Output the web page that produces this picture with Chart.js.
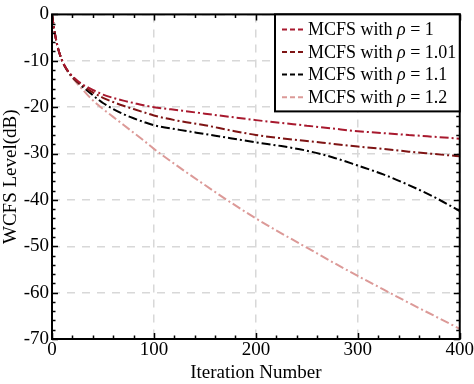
<!DOCTYPE html>
<html>
<head>
<meta charset="utf-8">
<script src="https://cdn.jsdelivr.net/npm/chart.js@4.4.0/dist/chart.umd.min.js"></script>
<style>
    html, body { margin: 0; padding: 0; background: #fff; }
    #wrap { width: 474px; height: 384px; position: relative; }
</style>
</head>
<body>
<div id="wrap"><canvas id="wcfsChart"></canvas></div>
<script>
// Iteration numbers sampled from the figure
const iterations = [0, 2, 5, 10, 15, 20, 25, 30, 35, 40, 45, 50, 60, 70, 80, 90, 100, 125, 150, 175, 200, 225, 250, 275, 300, 325, 350, 375, 400];

// WCFS level (dB) for each rho
const rho1   = [0, -3, -6.5, -10, -12, -13.3, -14.3, -15.1, -15.7, -16.3, -16.8, -17.3, -18.0, -18.6, -19.1, -19.6, -20.0, -20.7, -21.4, -22.1, -22.8, -23.4, -24.0, -24.6, -25.2, -25.6, -26.0, -26.4, -26.8];
const rho101 = [0, -3, -6.5, -10, -12, -13.4, -14.5, -15.3, -16.1, -16.8, -17.4, -18.0, -18.9, -19.7, -20.4, -21.1, -21.8, -23.0, -23.9, -25.0, -26.0, -26.7, -27.3, -27.9, -28.5, -29.0, -29.6, -30.1, -30.6];
const rho11  = [0, -3, -6.5, -10, -12.1, -13.5, -14.6, -15.6, -16.5, -17.4, -18.3, -19.1, -20.4, -21.5, -22.4, -23.2, -23.9, -24.9, -25.8, -26.7, -27.6, -28.4, -29.4, -30.8, -32.6, -34.5, -36.8, -39.4, -42.4];
const rho12  = [0, -3, -6.5, -10, -12.2, -13.7, -15.0, -16.2, -17.4, -18.5, -19.5, -20.4, -22.1, -23.8, -25.5, -27.2, -29.0, -33.0, -36.8, -40.5, -44.0, -47.2, -50.3, -53.4, -56.4, -59.3, -62.2, -65.0, -67.8];

const rhoValues = ['1', '1.01', '1.1', '1.2'];
const xTicks = [0, 100, 200, 300, 400];
const yTicks = [0, -10, -20, -30, -40, -50, -60, -70];

const colors = ['#a8192e', '#7e1414', '#000000', '#dc9a98'];
const FONT = '"Liberation Serif", "Times New Roman", serif';

function toPoints(ys) {
    return iterations.map((x, i) => ({ x: x, y: ys[i] }));
}

// frame, inward ticks and the boxed legend
const framePlugin = {
    id: 'frame',
    afterDatasetsDraw(chart) {
        const { ctx, chartArea: a, scales } = chart;
        const xs = scales.x, ys = scales.y;
        ctx.save();
        ctx.strokeStyle = '#000';
        ctx.lineWidth = 1.5;
        ctx.setLineDash([]);
        ctx.beginPath();
        for (let v = 0; v <= 400; v += 20) {
            const px = Math.round(xs.getPixelForValue(v)) + 0.5;
            const len = v % 100 === 0 ? 6 : 3.5;
            ctx.moveTo(px, a.bottom); ctx.lineTo(px, a.bottom - len);
            ctx.moveTo(px, a.top); ctx.lineTo(px, a.top + len);
        }
        for (let v = -70; v <= 0; v += 2) {
            const py = Math.round(ys.getPixelForValue(v)) + 0.5;
            const len = v % 10 === 0 ? 6 : 3.5;
            ctx.moveTo(a.left, py); ctx.lineTo(a.left + len, py);
            ctx.moveTo(a.right, py); ctx.lineTo(a.right - len, py);
        }
        ctx.stroke();
        ctx.lineWidth = 2;
        ctx.strokeRect(a.left, a.top, a.right - a.left, a.bottom - a.top);

        // legend box
        const lx = 275, ly = a.top, lw = a.right - lx, lh = 97;
        ctx.fillStyle = '#fff';
        ctx.fillRect(lx, ly, lw, lh);
        ctx.strokeRect(lx, ly, lw, lh);
        ctx.textBaseline = 'middle';
        chart.data.datasets.forEach((ds, i) => {
            const cy = ly + 15 + i * 22.6;
            ctx.strokeStyle = ds.borderColor;
            ctx.lineWidth = 2;
            ctx.setLineDash([5, 3]);
            ctx.beginPath();
            ctx.moveTo(282, cy); ctx.lineTo(304, cy);
            ctx.stroke();
            ctx.setLineDash([]);
            ctx.fillStyle = '#000';
            let tx = 308;
            ctx.font = '18px ' + FONT;
            ctx.fillText('MCFS with ', tx, cy + 1);
            tx += ctx.measureText('MCFS with ').width;
            ctx.font = 'italic 18px ' + FONT;
            ctx.fillText('\u03c1', tx, cy + 1);
            tx += ctx.measureText('\u03c1').width;
            ctx.font = '18px ' + FONT;
            ctx.fillText(' = ' + rhoValues[i], tx, cy + 1);
        });
        ctx.restore();
    }
};

const chart = new Chart(document.getElementById('wcfsChart').getContext('2d'), {
    type: 'line',
    data: {
        datasets: [rho1, rho101, rho11, rho12].map((ys, i) => ({
            label: 'MCFS with \u03c1 = ' + rhoValues[i],
            data: toPoints(ys),
            borderColor: colors[i],
            borderWidth: 2,
            borderDash: [9, 3, 2, 3],
            pointRadius: 0,
            cubicInterpolationMode: 'monotone',
            fill: false
        }))
    },
    options: {
        responsive: true,
        maintainAspectRatio: false,
        animation: false,
        layout: { padding: { top: 10, right: 14, left: 0, bottom: 0 } },
        plugins: {
            legend: { display: false },
            tooltip: { enabled: false }
        },
        scales: {
            x: {
                type: 'linear',
                min: 0,
                max: 400,
                afterBuildTicks: (s) => { s.ticks = xTicks.map(v => ({ value: v })); },
                afterFit: (s) => { s.height = 45; },
                ticks: {
                    color: '#000',
                    padding: 0,
                    maxRotation: 0,
                    font: { family: FONT, size: 19 }
                },
                grid: { color: '#d8d8d8', lineWidth: 1.5, drawTicks: false },
                border: { display: false, dash: [8, 7] },
                title: {
                    display: true,
                    text: 'Iteration Number',
                    color: '#000',
                    padding: { top: 0, bottom: 0 },
                    font: { family: FONT, size: 19 }
                }
            },
            y: {
                min: -70,
                max: 0,
                afterBuildTicks: (s) => { s.ticks = yTicks.map(v => ({ value: v })); },
                afterFit: (s) => { s.width = 52; },
                ticks: {
                    color: '#000',
                    padding: 3,
                    font: { family: FONT, size: 19 }
                },
                grid: { color: '#d8d8d8', lineWidth: 1.5, drawTicks: false },
                border: { display: false, dash: [8, 7] },
                title: {
                    display: true,
                    text: 'WCFS Level(dB)',
                    color: '#000',
                    padding: { top: 0, bottom: 0 },
                    font: { family: FONT, size: 19 }
                }
            }
        }
    },
    plugins: [framePlugin]
});
</script>
</body>
</html>
